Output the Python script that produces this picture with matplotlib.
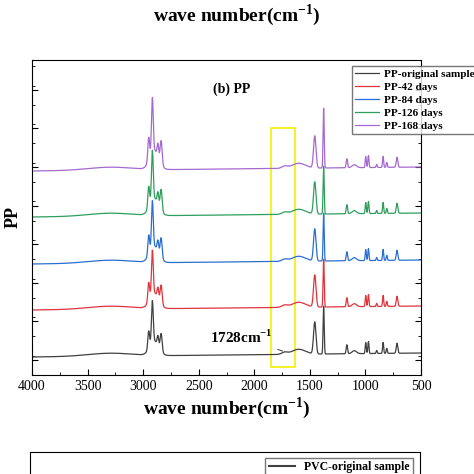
import numpy as np
import matplotlib
matplotlib.use("Agg")
import matplotlib.pyplot as plt
from matplotlib.ticker import MultipleLocator

plt.rcParams['font.family'] = ['Liberation Serif', 'DejaVu Serif']
plt.rcParams['font.weight'] = 'bold'
plt.rcParams['mathtext.fontset'] = 'custom'
plt.rcParams['mathtext.rm'] = 'Liberation Serif:bold'
plt.rcParams['mathtext.bf'] = 'Liberation Serif:bold'

labels = ["PP-original sample", "PP-42 days", "PP-84 days", "PP-126 days", "PP-168 days"]
colors = ["#404040", "#e0343c", "#2a6fd0", "#2f9e5c", "#a46ad0"]
offsets = [18, 65, 111, 158, 204]
main_scale = [0.8, 0.85, 0.9, 0.95, 1.05]

# peak centres (cm-1), heights, widths
peak_pos = [3300, 2900, 2950, 2917, 2867, 2838, 1728, 1600, 1456, 1376, 1167, 1100, 997, 973, 899, 841, 808, 716]
peak_h   = [3,    18,   22,   52,   12,   22,   2,    5,    32,   48,   9,    3,    11,   12,   3,   11,  5,   10]
peak_w   = [200,  40,   8,    8,    7,    9,    25,   60,   11,   5,    6,    20,   5,    5,    5,   5,   5,   7]

wn = np.linspace(4000, 500, 3000)

fig = plt.figure(figsize=(4.74, 4.74), dpi=100)
ax = fig.add_axes([32/474, 1-375/474, (421-32)/474, (375-60)/474])

for i, (lab, c, off, s) in enumerate(zip(labels, colors, offsets, main_scale)):
    y = np.full_like(wn, off) + (4000 - wn) / 3500 * 4.0
    for p, h, w in zip(peak_pos, peak_h, peak_w):
        hh = h * s if p in (2950, 2917, 2867, 2838, 2900) else h
        if i == 4 and p == 1376:
            hh = 60
        y += hh * np.exp(-0.5 * ((wn - p) / w) ** 2)
    ax.plot(wn, y, color=c, lw=0.9, label=lab)

ax.set_xlim(4000, 500)
ax.set_ylim(0, 315)
ax.xaxis.set_major_locator(MultipleLocator(500))
ax.xaxis.set_minor_locator(MultipleLocator(250))
ax.set_yticks([15 + 38.6 * k for k in range(8)])
ax.yaxis.set_minor_locator(MultipleLocator(19.3))
ax.set_yticklabels([])
ax.tick_params(direction='in', which='both', left=True, right=True, top=False)
ax.tick_params(which='major', length=4)
ax.tick_params(which='minor', length=2)
ax.tick_params(axis='x', labelsize=10)
for t in ax.get_xticklabels():
    t.set_fontweight('normal')
ax.set_xlabel("wave number(cm$^{-1}$)", fontsize=14, fontweight='bold', labelpad=2)
ax.set_ylabel("PP", fontsize=13, fontweight='bold', labelpad=4)

# highlight box and annotation
ax.add_patch(plt.Rectangle((1850, 8), -220, 239, fill=False, ec='#f5f000', lw=1.2))
ax.annotate("1728cm$^{-1}$", xy=(1720, 23), xytext=(1830, 38),
            fontsize=11, fontweight='bold', ha='right', va='center',
            arrowprops=dict(arrowstyle='-', color='#404040', lw=0.7))
ax.text(2200, 282, "(b) PP", fontsize=10, fontweight='bold', ha='center')

fig.legend(loc='upper left', bbox_to_anchor=(346/474, 1-60/474), fontsize=8,
           frameon=True, fancybox=False, edgecolor='#555555', borderpad=0.3,
           labelspacing=0.3, handlelength=2.2, handletextpad=0.4)

fig.text(237/474, 1-15/474, "wave number(cm$^{-1}$)", fontsize=14,
         fontweight='bold', ha='center', va='center')

ax2 = fig.add_axes([30/474, -0.1, (420-30)/474, 0.1 + 1 - 452/474])
ax2.set_xticks([]); ax2.set_yticks([])
ax2.plot([0], [0], color='#404040', label="PVC-original sample")
ax2.legend(loc='upper left', bbox_to_anchor=(0.588, 1.0), fontsize=8.5, frameon=True,
           fancybox=False, edgecolor='#555555', borderpad=0.3, handlelength=2.2)

fig.savefig("out.png", dpi=100)
